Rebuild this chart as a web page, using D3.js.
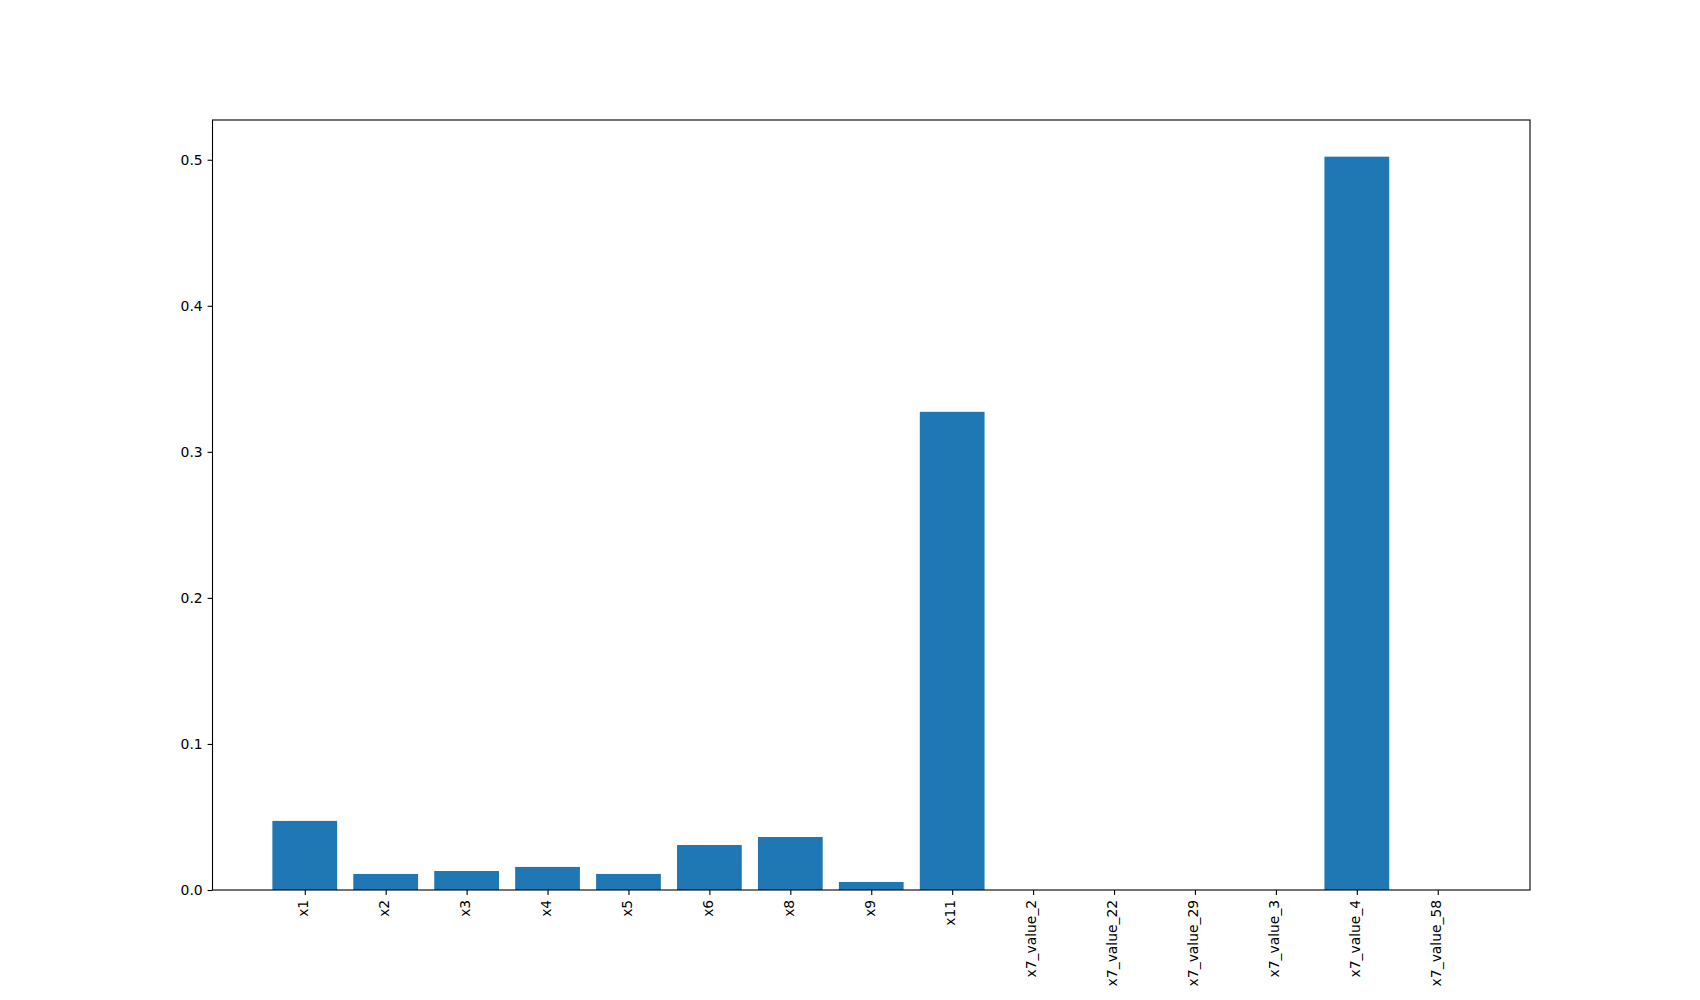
<!DOCTYPE html>
<html>
<head>
<meta charset="utf-8">
<script src="https://cdn.jsdelivr.net/npm/d3@7"></script>
<style>
  body { margin: 0; background: #fff; }
  svg text { font-family: "DejaVu Sans", sans-serif; font-size: 13.9px; fill: #000; }
</style>
</head>
<body>
<div id="chart"></div>
<script>
// feature importance bars
const features = ['x1','x2','x3','x4','x5','x6','x8','x9','x11',
  'x7_value_2','x7_value_22','x7_value_29','x7_value_3','x7_value_4','x7_value_58'];
const importance = [0.0473, 0.0110, 0.0130, 0.0158, 0.0110, 0.0308, 0.0363, 0.0055, 0.3274,
  0, 0, 0, 0, 0.5021, 0];
const yTicks = [0.0, 0.1, 0.2, 0.3, 0.4, 0.5];

(function() {
  const W = 1700, H = 1000;
  const m = {left: 212.5, right: 1530, top: 120, bottom: 890};

  const svg = d3.select('#chart').append('svg')
    .attr('width', W).attr('height', H).attr('viewBox', `0 0 ${W} ${H}`);

  // matplotlib style: bar width 0.8, 5% margins on x
  const n = features.length;
  const lo = -0.4, hi = n - 1 + 0.4, pad = (hi - lo) * 0.05;
  const x = d3.scaleLinear().domain([lo - pad, hi + pad]).range([m.left, m.right]);
  const y = d3.scaleLinear().domain([0, d3.max(importance) * 1.05]).range([m.bottom, m.top]);

  svg.append('g').selectAll('rect').data(importance).join('rect')
    .attr('x', (d, i) => x(i - 0.4))
    .attr('width', (d, i) => x(i + 0.4) - x(i - 0.4))
    .attr('y', d => y(d))
    .attr('height', d => y(0) - y(d))
    .attr('fill', '#1f77b4');

  // y axis
  const ya = svg.append('g').attr('transform', `translate(${m.left},0)`)
    .call(d3.axisLeft(y).tickValues(yTicks).tickFormat(d3.format('.1f')).tickSize(4.9).tickPadding(4.9));
  ya.select('.domain').remove();
  ya.selectAll('line').attr('stroke', '#000').attr('stroke-width', 1.1);
  ya.selectAll('text').attr('font-size', null);

  // x axis
  const xa = svg.append('g').attr('transform', `translate(0,${m.bottom})`)
    .call(d3.axisBottom(x).tickValues(d3.range(n)).tickFormat(i => features[i]).tickSize(4.9));
  xa.select('.domain').remove();
  xa.selectAll('line').attr('stroke', '#000').attr('stroke-width', 1.1);
  xa.selectAll('text')
    .attr('font-size', null)
    .attr('transform', 'rotate(-90)')
    .attr('x', -9.8).attr('y', 0).attr('dy', '0.2em')
    .attr('text-anchor', 'end');

  // frame
  svg.append('rect')
    .attr('x', m.left).attr('y', m.top)
    .attr('width', m.right - m.left).attr('height', m.bottom - m.top)
    .attr('fill', 'none').attr('stroke', '#000').attr('stroke-width', 1.1);
})();
</script>
</body>
</html>
